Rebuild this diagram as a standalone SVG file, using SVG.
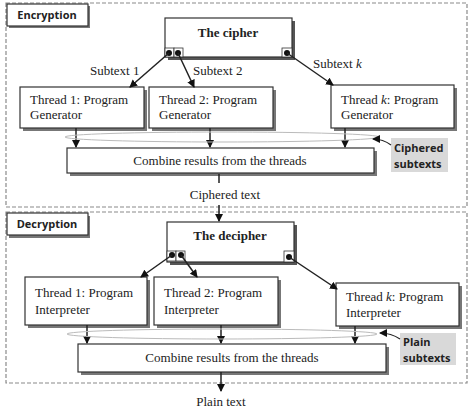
<svg xmlns="http://www.w3.org/2000/svg" width="474" height="411" viewBox="0 0 474 411">
<defs>
<style>
.bg{fill:#fff}
.frame{fill:none;stroke:#8a8a8a;stroke-width:1.2;stroke-dasharray:4 2}
.box{fill:#fff;stroke:#333;stroke-width:1.2}
.sh{fill:#777}
.shd{fill:#555}
.t{font-family:"Liberation Serif",serif;font-size:13px;fill:#222}
.tb{font-family:"Liberation Serif",serif;font-size:13px;font-weight:bold;fill:#222}
.s{font-family:"Open Sans","Liberation Sans",sans-serif;font-size:11px;font-weight:bold;fill:#222}
.note{fill:#d9d9d9}
.ln{fill:none;stroke:#222;stroke-width:1.5}
.ell{fill:none;stroke:#bbb;stroke-width:1}
.port{fill:#fff;stroke:#333;stroke-width:0.8}
</style>
<marker id="ah" markerWidth="8" markerHeight="8" refX="7" refY="4" orient="auto" markerUnits="userSpaceOnUse">
<path d="M0,0 L8,4 L0,8 z" fill="#111"/>
</marker>
</defs>
<rect class="bg" x="0" y="0" width="474" height="411"/>

<!-- Encryption section -->
<g id="encryption-frame">
<rect class="frame" x="6" y="3" width="461" height="204"/>
<rect class="sh" x="9" y="6" width="81" height="22"/>
<rect class="box" x="7" y="4" width="81" height="22"/>
<text class="s" x="47" y="19" text-anchor="middle">Encryption</text>
</g>

<g id="cipher">
<rect class="shd" x="168" y="21" width="127" height="39"/>
<rect class="box" x="165" y="18" width="127" height="39"/>
<text class="tb" x="228" y="37" text-anchor="middle">The cipher</text>
<rect class="port" x="165" y="48" width="9" height="9"/>
<rect class="port" x="174" y="48" width="9" height="9"/>
<rect class="port" x="282" y="48" width="10" height="9"/>
<circle cx="169" cy="53" r="3" fill="#111"/>
<circle cx="178" cy="53" r="3" fill="#111"/>
<circle cx="287" cy="53" r="3" fill="#111"/>
</g>

<g id="thread1-gen">
<rect class="sh" x="23" y="90" width="124" height="41"/>
<rect class="box" x="20" y="87" width="124" height="41"/>
<text class="t" x="30" y="104">Thread 1: Program</text>
<text class="t" x="30" y="119">Generator</text>
</g>
<g id="thread2-gen">
<rect class="sh" x="152" y="90" width="124" height="41"/>
<rect class="box" x="149" y="87" width="124" height="41"/>
<text class="t" x="159" y="104">Thread 2: Program</text>
<text class="t" x="159" y="119">Generator</text>
</g>
<g id="threadk-gen">
<rect class="sh" x="334" y="88" width="123" height="43"/>
<rect class="box" x="331" y="85" width="123" height="43"/>
<text class="t" x="341" y="104">Thread <tspan font-style="italic">k</tspan>: Program</text>
<text class="t" x="341" y="119">Generator</text>
</g>

<g id="combine-enc">
<rect class="sh" x="70" y="151" width="307" height="25"/>
<rect class="box" x="67" y="148" width="307" height="25"/>
<text class="t" x="220" y="165" text-anchor="middle">Combine results from the threads</text>
</g>

<g id="ciphered-subtexts">
<rect class="note" x="391" y="138" width="57" height="34"/>
<text class="s" x="394" y="152">Ciphered</text>
<text class="s" x="394" y="168">subtexts</text>
</g>

<!-- Decryption section -->
<g id="decryption-frame">
<rect class="frame" x="6" y="212" width="461" height="171"/>
<rect class="sh" x="9" y="216" width="81" height="22"/>
<rect class="box" x="7" y="213" width="81" height="22"/>
<text class="s" x="47" y="228" text-anchor="middle">Decryption</text>
</g>

<g id="decipher">
<rect class="shd" x="170" y="225" width="127" height="40"/>
<rect class="box" x="167" y="222" width="127" height="40"/>
<text class="tb" x="230" y="240" text-anchor="middle">The decipher</text>
<rect class="port" x="167" y="251" width="9" height="10"/>
<rect class="port" x="176" y="251" width="9" height="10"/>
<rect class="port" x="284" y="251" width="10" height="11"/>
<circle cx="172" cy="255" r="3" fill="#111"/>
<circle cx="181" cy="255" r="3" fill="#111"/>
<circle cx="289" cy="257" r="3" fill="#111"/>
</g>

<g id="thread1-int">
<rect class="sh" x="28" y="280" width="122" height="48"/>
<rect class="box" x="25" y="277" width="122" height="48"/>
<text class="t" x="35" y="297">Thread 1: Program</text>
<text class="t" x="35" y="314">Interpreter</text>
</g>
<g id="thread2-int">
<rect class="sh" x="157" y="280" width="124" height="48"/>
<rect class="box" x="154" y="277" width="124" height="48"/>
<text class="t" x="164" y="297">Thread 2: Program</text>
<text class="t" x="164" y="314">Interpreter</text>
</g>
<g id="threadk-int">
<rect class="sh" x="339" y="286" width="123" height="43"/>
<rect class="box" x="336" y="283" width="123" height="43"/>
<text class="t" x="346" y="301">Thread <tspan font-style="italic">k</tspan>: Program</text>
<text class="t" x="346" y="317">Interpreter</text>
</g>

<g id="combine-dec">
<rect class="sh" x="81" y="347" width="308" height="28"/>
<rect class="box" x="78" y="344" width="308" height="28"/>
<text class="t" x="232" y="362" text-anchor="middle">Combine results from the threads</text>
</g>

<g id="plain-subtexts">
<rect class="note" x="400" y="333" width="56" height="32"/>
<text class="s" x="403" y="346">Plain</text>
<text class="s" x="403" y="362">subtexts</text>
</g>

<g id="connectors">
<!-- encryption -->
<line class="ln" x1="169" y1="53" x2="130" y2="87" marker-end="url(#ah)"/>
<line class="ln" x1="178" y1="53" x2="194" y2="87" marker-end="url(#ah)"/>
<line class="ln" x1="287" y1="53" x2="333" y2="85" marker-end="url(#ah)"/>
<text class="t" x="90" y="75">Subtext 1</text>
<text class="t" x="193" y="75">Subtext 2</text>
<text class="t" x="313" y="68">Subtext <tspan font-style="italic">k</tspan></text>
<line class="ln" x1="76" y1="128" x2="76" y2="147" marker-end="url(#ah)"/>
<line class="ln" x1="210" y1="128" x2="210" y2="147" marker-end="url(#ah)"/>
<line class="ln" x1="345" y1="128" x2="345" y2="147" marker-end="url(#ah)"/>
<ellipse class="ell" cx="222" cy="137" rx="157" ry="5"/>
<path class="ln" d="M391,145 Q383,139 373,139" marker-end="url(#ah)" style="stroke-width:1.2"/>
<line class="ln" x1="219" y1="174" x2="219" y2="183"/>
<text class="t" x="225" y="199" text-anchor="middle">Ciphered text</text>
<line class="ln" x1="219" y1="205" x2="219" y2="221" marker-end="url(#ah)"/>
<!-- decryption -->
<line class="ln" x1="172" y1="255" x2="141" y2="277" marker-end="url(#ah)"/>
<line class="ln" x1="181" y1="255" x2="197" y2="277" marker-end="url(#ah)"/>
<line class="ln" x1="289" y1="257" x2="337" y2="289" marker-end="url(#ah)"/>
<line class="ln" x1="87" y1="325" x2="87" y2="343" marker-end="url(#ah)"/>
<line class="ln" x1="221" y1="325" x2="221" y2="343" marker-end="url(#ah)"/>
<line class="ln" x1="355" y1="326" x2="355" y2="343" marker-end="url(#ah)"/>
<ellipse class="ell" cx="222" cy="334" rx="155" ry="5"/>
<path class="ln" d="M400,339 Q391,333 380,333" marker-end="url(#ah)" style="stroke-width:1.2"/>
<line class="ln" x1="221" y1="372" x2="221" y2="391" marker-end="url(#ah)"/>
<text class="t" x="221" y="406" text-anchor="middle">Plain text</text>
</g>
</svg>
